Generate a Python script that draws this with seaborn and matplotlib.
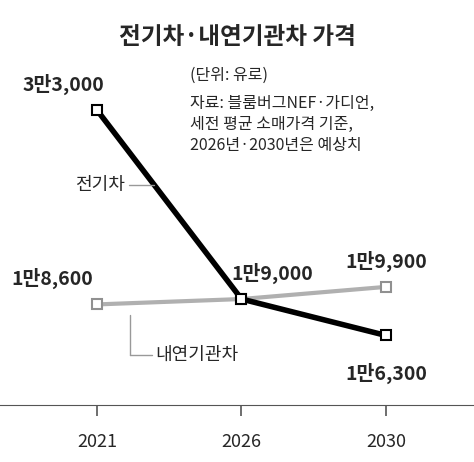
import matplotlib
matplotlib.use("Agg")
import matplotlib.pyplot as plt
import seaborn as sns
import pandas as pd

years = ["2021", "2026", "2030"]
ev = [33000, 19000, 16300]
ice = [18600, 19000, 19900]
ev_labels = ["3만3,000", "1만9,000", "1만6,300"]
ice_labels = ["1만8,600", "", "1만9,900"]

sns.set_style("white")
plt.rcParams['font.family'] = ['Noto Sans CJK KR', 'DejaVu Sans']

fig = plt.figure(figsize=(4.74, 4.62), dpi=100)
ax = fig.add_axes([0, 57/462, 1, 405/462])
ice_df = pd.DataFrame({"year": years, "price": ice})
ev_df = pd.DataFrame({"year": years, "price": ev})
sns.lineplot(data=ice_df, x="year", y="price", color="#b0b0b0", sort=False,
             lw=3, marker="s", markersize=7, markerfacecolor="white",
             markeredgecolor="#909090", markeredgewidth=1.5, ax=ax)
sns.lineplot(data=ev_df, x="year", y="price", color="black", sort=False,
             lw=4, marker="s", markersize=7, markerfacecolor="white",
             markeredgecolor="black", markeredgewidth=1.5, ax=ax)
ax.set_xlim(-0.671, 2.609)
ax.set_ylim(11150, 41150)
ax.set_xlabel(""); ax.set_ylabel("")
ax.set_yticks([])
ax.set_xticks([0, 1, 2])
ax.set_xticklabels(years, fontsize=13)
ax.tick_params(axis="x", bottom=True, length=8, width=1.2, color="#555", direction="out", pad=12)
for s in ["top", "right", "left"]:
    ax.spines[s].set_visible(False)
ax.spines["bottom"].set_color("#555")

kw = dict(fontsize=14, fontweight="bold", ha="center")
ax.annotate(ev_labels[0], (0, ev[0]), xytext=(-24, 14), textcoords="offset points", **kw)
ax.annotate(ev_labels[1], (1, ev[1]), xytext=(22, 14), textcoords="offset points", **kw)
ax.annotate(ev_labels[2], (2, ev[2]), xytext=(0, -32), textcoords="offset points", **kw)
ax.annotate(ice_labels[0], (0, ice[0]), xytext=(-32, 14), textcoords="offset points", **kw)
ax.annotate(ice_labels[2], (2, ice[2]), xytext=(0, 14), textcoords="offset points", **kw)

# callouts
ax.plot([0.22, 0.397], [27447, 27447], color="#999", lw=1)
ax.text(0.02, 27447, "전기차", fontsize=13, va="center", ha="center")
ax.plot([0.23, 0.23], [17817, 14855], color="#999", lw=1)
ax.plot([0.23, 0.38], [14855, 14855], color="#999", lw=1)
ax.text(0.40, 14855, "내연기관차", fontsize=13, va="center", ha="left")

fig.text(0.5, 0.905, "전기차·내연기관차 가격", fontsize=17, fontweight="bold", ha="center")
fig.text(0.40, 0.838, "(단위: 유로)", fontsize=11.5, ha="left", va="center")
fig.text(0.40, 0.795, "자료: 블룸버그NEF·가디언,\n세전 평균 소매가격 기준,\n2026년·2030년은 예상치",
         fontsize=11.5, ha="left", va="top", linespacing=1.3)
fig.savefig("out.png", dpi=100)
